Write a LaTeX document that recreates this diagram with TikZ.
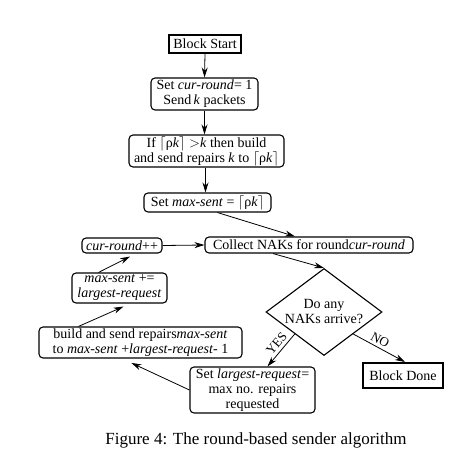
\documentclass[tikz,border=0pt]{standalone}
\usepackage{fontspec}
\setmainfont{Liberation Serif}
\usetikzlibrary{arrows.meta,shapes.geometric,calc}
\newcommand{\ceilrk}{$\lceil$ρ\textit{k}$\rceil$}
\begin{document}
\begin{tikzpicture}[x=1pt,y=-1pt,
  every node/.style={font=\fontsize{14}{15}\selectfont},
  box/.style={draw, rounded corners=4pt, line width=1.1pt, align=center, inner sep=0pt},
  endbox/.style={draw, line width=2pt, align=center, inner sep=0pt},
  decision/.style={draw, diamond, line width=1.1pt, align=center, inner sep=0pt, aspect=1.33},
  conn/.style={-{Stealth[length=10pt,width=6pt]}, line width=0.8pt},
  lbl/.style={font=\fontsize{13}{14}\selectfont, inner sep=3pt},
  captiontext/.style={font=\fontsize{17}{19}\selectfont}
]
\useasboundingbox[fill=white] (0,0) rectangle (474,469);

\node[endbox, minimum width=72, minimum height=18] (start) at (205,44) {Block Start};
\node[box, minimum width=107, minimum height=32] (set1) at (204.5,94) {Set \textit{cur-round}= 1\\Send\,\textit{k} packets};
\node[box, minimum width=155, minimum height=32] (ifb) at (206.5,151) {If \ceilrk\ $>$\textit{k} then build\\and send repairs \textit{k} to \ceilrk};
\node[box, minimum width=127, minimum height=19] (maxs) at (207.5,202.5) {Set \textit{max-sent} = \ceilrk};
\node[box, minimum width=208, minimum height=16] (collect) at (309,245) {Collect NAKs for round\textit{cur-round}};
\node[box, minimum width=80, minimum height=15] (curr) at (122,245.5) {\textit{cur-round}++};
\node[box, minimum width=95, minimum height=30] (maxplus) at (119.5,288) {\textit{max-sent} +=\\\textit{largest-request}};
\node[box, minimum width=203, minimum height=31] (build) at (140.5,342.5) {build and send repairs\textit{max-sent}\\to \textit{max-sent} +\textit{largest-request}- 1};
\node[box, minimum width=125, minimum height=46] (setl) at (252.5,390) {Set \textit{largest-request}=\\max no. repairs\\requested};
\node[decision, minimum width=116, minimum height=87] (dec) at (324,312) {Do any\\NAKs arrive?};
\node[endbox, minimum width=80, minimum height=25] (done) at (403,375.5) {Block Done};

\draw[conn] (start.south) -- (set1.north);
\draw[conn] (set1.south) -- (set1.south |- ifb.north);
\draw[conn] ([xshift=-2pt]ifb.south -| maxs.north) -- ([xshift=-2pt]maxs.north);
\draw[conn] ([xshift=10pt]maxs.south) -- ([xshift=-14pt]collect.north);
\draw[conn] ([xshift=-36pt]collect.south) -- (dec.north);
\draw[conn] (dec.south east) -- node[lbl, sloped, above, pos=0.45] {NO} ([xshift=2pt]done.north);
\draw[conn] (dec.south west) -- node[lbl, sloped, above, pos=0.45] {YES} ([xshift=15pt]setl.north);
\draw[conn, shorten >=1pt] (setl.west) -- ([xshift=-10pt,yshift=-4pt]build.south);
\draw[conn] ([xshift=-62pt]build.north) -- ([xshift=4pt,yshift=-3pt]maxplus.south);
\draw[conn] ([xshift=-21pt]maxplus.north) -- ([xshift=8pt,yshift=-3pt]curr.south);
\draw[conn] (curr.east) -- (collect.west);

\node[captiontext] (caption) at (256,440) {Figure 4: The round-based sender algorithm};
\end{tikzpicture}
\end{document}
